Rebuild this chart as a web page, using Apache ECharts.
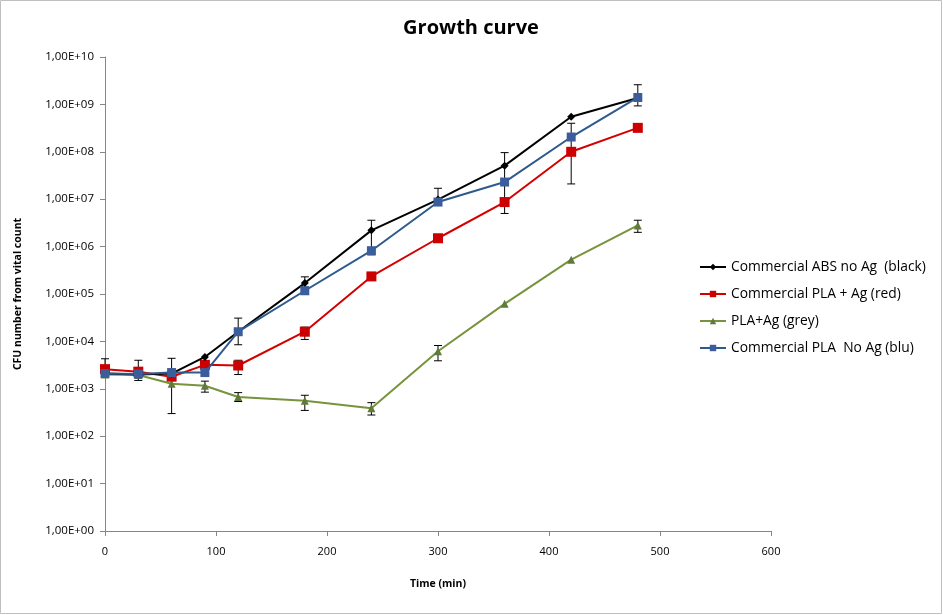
<!DOCTYPE html>
<html>
<head>
<meta charset="utf-8">
<script src="https://cdn.jsdelivr.net/npm/echarts@6/dist/echarts.min.js"></script>
<style>
  html, body { margin: 0; padding: 0; background: #fff; }
  #chart { width: 943px; height: 615px; }
</style>
</head>
<body>
<div id="chart"></div>
<script>
// time points (min)
const times = [0, 30, 60, 90, 120, 180, 240, 300, 360, 420, 480];

// CFU counts
const absNoAg = [2.1e3, 2.0e3, 2.1e3, 4.7e3, 1.6e4, 1.7e5, 2.2e6, 9.8e6, 5.1e7, 5.5e8, 1.37e9];
const plaAg = [2.6e3, 2.3e3, 1.8e3, 3.2e3, 3.1e3, 1.6e4, 2.35e5, 1.5e6, 8.7e6, 1.0e8, 3.2e8];
const plaAgGrey = [2.0e3, 1.95e3, 1.28e3, 1.16e3, 6.7e2, 5.6e2, 3.9e2, 6.2e3, 6.2e4, 5.3e5, 2.8e6];
const plaNoAg = [2.1e3, 2.05e3, 2.2e3, 2.2e3, 1.6e4, 1.17e5, 8.2e5, 8.7e6, 2.3e7, 2.05e8, 1.4e9];

// error bars: [time, low, high]
const errorBars = [
  [0, 2.0e3, 4.3e3],
  [30, 1.5e3, 4.0e3],
  [60, 3.0e2, 4.4e3],
  [90, 8.5e2, 1.45e3],
  [120, 8.5e3, 3.1e4],
  [120, 2.0e3, 4.0e3],
  [120, 5.4e2, 8.3e2],
  [180, 1.4e5, 2.3e5],
  [180, 1.1e4, 2.0e4],
  [180, 3.5e2, 7.3e2],
  [240, 6.7e5, 3.6e6],
  [240, 2.8e2, 5.1e2],
  [300, 8.0e6, 1.7e7],
  [300, 3.9e3, 8.2e3],
  [360, 5.0e6, 9.6e7],
  [420, 2.1e7, 4.0e8],
  [480, 9.3e8, 2.6e9],
  [480, 2.0e6, 3.6e6]
];

const xTicks = [0, 600, 100]; // min, max, interval
const yRange = [1, 1e10];

const chart = echarts.init(document.getElementById('chart'));

function pair(vals) {
  return times.map((t, i) => [t, vals[i]]);
}

const option = {
  animation: false,
  textStyle: { fontFamily: 'Open Sans, Liberation Sans, sans-serif' },
  title: {
    text: 'Growth curve',
    left: 466,
    top: 13,
    textAlign: 'center',
    textStyle: { fontSize: 20, fontWeight: 'bold', color: '#000' }
  },
  legend: {
    orient: 'vertical',
    left: 694,
    top: 255,
    itemGap: 13,
    itemWidth: 26,
    itemHeight: 8,
    textStyle: { fontSize: 13.8, color: '#000' },
    data: ['Commercial ABS no Ag  (black)', 'Commercial PLA + Ag (red)', 'PLA+Ag (grey)', 'Commercial PLA  No Ag (blu)']
  },
  grid: { left: 105, right: 172, top: 57, bottom: 84 },
  graphic: [{
    type: 'rect',
    shape: { x: 0.5, y: 0.5, width: 941, height: 613 },
    style: { fill: 'none', stroke: '#bfbfbf', lineWidth: 1 },
    silent: true
  }],
  xAxis: {
    type: 'value',
    min: xTicks[0],
    max: xTicks[1],
    interval: xTicks[2],
    name: 'Time (min)',
    nameLocation: 'middle',
    nameGap: 48,
    nameTextStyle: { fontSize: 10.5, fontWeight: 'bold', color: '#000' },
    axisLine: { lineStyle: { color: '#868686' } },
    axisTick: { show: true, inside: false, length: 5, lineStyle: { color: '#868686' } },
    axisLabel: { fontSize: 11, color: '#000', margin: 15 },
    splitLine: { show: false }
  },
  yAxis: {
    type: 'log',
    logBase: 10,
    min: yRange[0],
    max: yRange[1],
    interval: 1,
    name: 'CFU number from vital count',
    nameLocation: 'middle',
    nameGap: 81,
    nameTextStyle: { fontSize: 10.5, fontWeight: 'bold', color: '#000' },
    axisLine: { show: true, lineStyle: { color: '#868686' } },
    axisTick: { show: true, length: 5, lineStyle: { color: '#868686' } },
    axisLabel: {
      fontSize: 11.5, color: '#000', margin: 11,
      formatter: function (v) {
        const e = Math.round(Math.log10(v));
        return '1,00E+' + (e < 10 ? '0' + e : e);
      }
    },
    splitLine: { show: false },
    minorTick: { show: false }
  },
  series: [
    {
      name: 'errors',
      type: 'custom',
      z: 1,
      data: errorBars,
      renderItem: function (params, api) {
        const t = api.value(0);
        const lo = api.coord([t, api.value(1)]);
        const hi = api.coord([t, api.value(2)]);
        const w = 4;
        const st = { stroke: '#000', lineWidth: 1 };
        return {
          type: 'group',
          children: [
            { type: 'line', shape: { x1: lo[0], y1: lo[1], x2: hi[0], y2: hi[1] }, style: st },
            { type: 'line', shape: { x1: lo[0] - w, y1: lo[1], x2: lo[0] + w, y2: lo[1] }, style: st },
            { type: 'line', shape: { x1: hi[0] - w, y1: hi[1], x2: hi[0] + w, y2: hi[1] }, style: st }
          ]
        };
      }
    },
    {
      name: 'Commercial ABS no Ag  (black)',
      type: 'line',
      z: 4,
      data: pair(absNoAg),
      symbol: 'diamond',
      symbolSize: 8,
      lineStyle: { color: '#000', width: 2 },
      itemStyle: { color: '#000' }
    },
    {
      name: 'Commercial PLA + Ag (red)',
      type: 'line',
      z: 3,
      data: pair(plaAg),
      symbol: 'rect',
      symbolSize: 10,
      lineStyle: { color: '#d40000', width: 2 },
      itemStyle: { color: '#cc0000' }
    },
    {
      name: 'PLA+Ag (grey)',
      type: 'line',
      z: 2,
      data: pair(plaAgGrey),
      symbol: 'triangle',
      symbolSize: 8,
      lineStyle: { color: '#77933c', width: 2 },
      itemStyle: { color: '#5f7a3a' }
    },
    {
      name: 'Commercial PLA  No Ag (blu)',
      type: 'line',
      z: 5,
      data: pair(plaNoAg),
      symbol: 'rect',
      symbolSize: 9,
      lineStyle: { color: '#2e5a8c', width: 2 },
      itemStyle: { color: '#3c5d9c' }
    }
  ]
};

chart.setOption(option);
</script>
</body>
</html>
